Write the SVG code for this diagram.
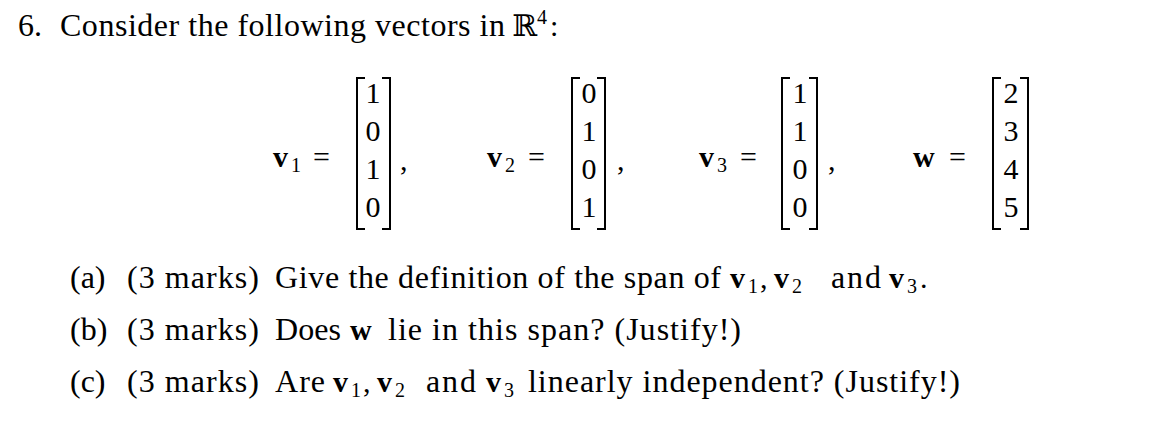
<svg xmlns="http://www.w3.org/2000/svg" width="1171" height="431" viewBox="0 0 1171 431">
<style>
text{font-family:"Liberation Serif","DejaVu Serif",serif;font-size:30px;fill:#000}
.t{font-size:32px}
.b{font-weight:bold}
.s{font-size:20px}
.e{text-anchor:middle}
.br{fill:none;stroke:#000;stroke-width:2}
</style>
<rect width="1171" height="431" fill="#fff"/>
<text x="18" y="36" class="t">6.</text>
<text x="60" y="36" class="t" textLength="445">Consider the following vectors in</text>
<text x="512" y="36" font-family="DejaVu Serif" font-size="28">ℝ</text>
<text x="537" y="24" class="s">4</text><text x="550" y="36">:</text>
<g id="v1">
<text x="273" y="167" class="b">v</text><text x="291" y="172" class="s">1</text><text x="313" y="167">=</text>
<path class="br" d="M365,78 H357 V229 H365 M382,78 H390 V229 H382"/>
<text class="e" x="373" y="103">1</text><text class="e" x="373" y="141">0</text><text class="e" x="373" y="179">1</text><text class="e" x="373" y="217">0</text>
<text x="400" y="170">,</text>
</g>
<g id="v2">
<text x="487" y="167" class="b">v</text><text x="505" y="172" class="s">2</text><text x="528" y="167">=</text>
<path class="br" d="M580,78 H572 V229 H580 M597,78 H605 V229 H597"/>
<text class="e" x="589" y="103">0</text><text class="e" x="589" y="141">1</text><text class="e" x="589" y="179">0</text><text class="e" x="589" y="217">1</text>
<text x="617" y="170">,</text>
</g>
<g id="v3">
<text x="699" y="167" class="b">v</text><text x="717" y="172" class="s">3</text><text x="740" y="167">=</text>
<path class="br" d="M790,78 H782 V229 H790 M809,78 H817 V229 H809"/>
<text class="e" x="800" y="103">1</text><text class="e" x="800" y="141">1</text><text class="e" x="800" y="179">0</text><text class="e" x="800" y="217">0</text>
<text x="828" y="170">,</text>
</g>
<g id="w">
<text x="913" y="167" class="b">w</text><text x="949" y="167">=</text>
<path class="br" d="M1001,78 H993 V229 H1001 M1020,78 H1028 V229 H1020"/>
<text class="e" x="1011" y="103">2</text><text class="e" x="1011" y="141">3</text><text class="e" x="1011" y="179">4</text><text class="e" x="1011" y="217">5</text>
</g>
<g id="a" class="t">
<text x="70" y="288" class="t">(a)</text><text x="127" y="288" class="t" textLength="132">(3 marks)</text>
<text x="275" y="288" class="t" textLength="446">Give the definition of the span of</text>
<text x="730" y="288" class="b">v</text><text x="748" y="293" class="s">1</text><text x="760" y="288">,</text>
<text x="774" y="288" class="b">v</text><text x="792" y="293" class="s">2</text>
<text x="831" y="288" class="t" textLength="50">and</text>
<text x="889" y="288" class="b">v</text><text x="907" y="293" class="s">3</text><text x="920" y="288">.</text>
</g>
<g id="b">
<text x="70" y="340" class="t">(b)</text><text x="127" y="340" class="t" textLength="132">(3 marks)</text>
<text x="275" y="340" class="t" textLength="66">Does</text>
<text x="350" y="340" class="b">w</text>
<text x="388" y="340" class="t" textLength="353">lie in this span? (Justify!)</text>
</g>
<g id="c">
<text x="70" y="392" class="t">(c)</text><text x="127" y="392" class="t" textLength="132">(3 marks)</text>
<text x="275" y="392" class="t" textLength="50">Are</text>
<text x="333" y="392" class="b">v</text><text x="351" y="397" class="s">1</text><text x="363" y="392">,</text>
<text x="377" y="392" class="b">v</text><text x="395" y="397" class="s">2</text>
<text x="426" y="392" class="t" textLength="50">and</text>
<text x="486" y="392" class="b">v</text><text x="504" y="397" class="s">3</text>
<text x="528" y="392" class="t" textLength="432">linearly independent? (Justify!)</text>
</g>
</svg>
